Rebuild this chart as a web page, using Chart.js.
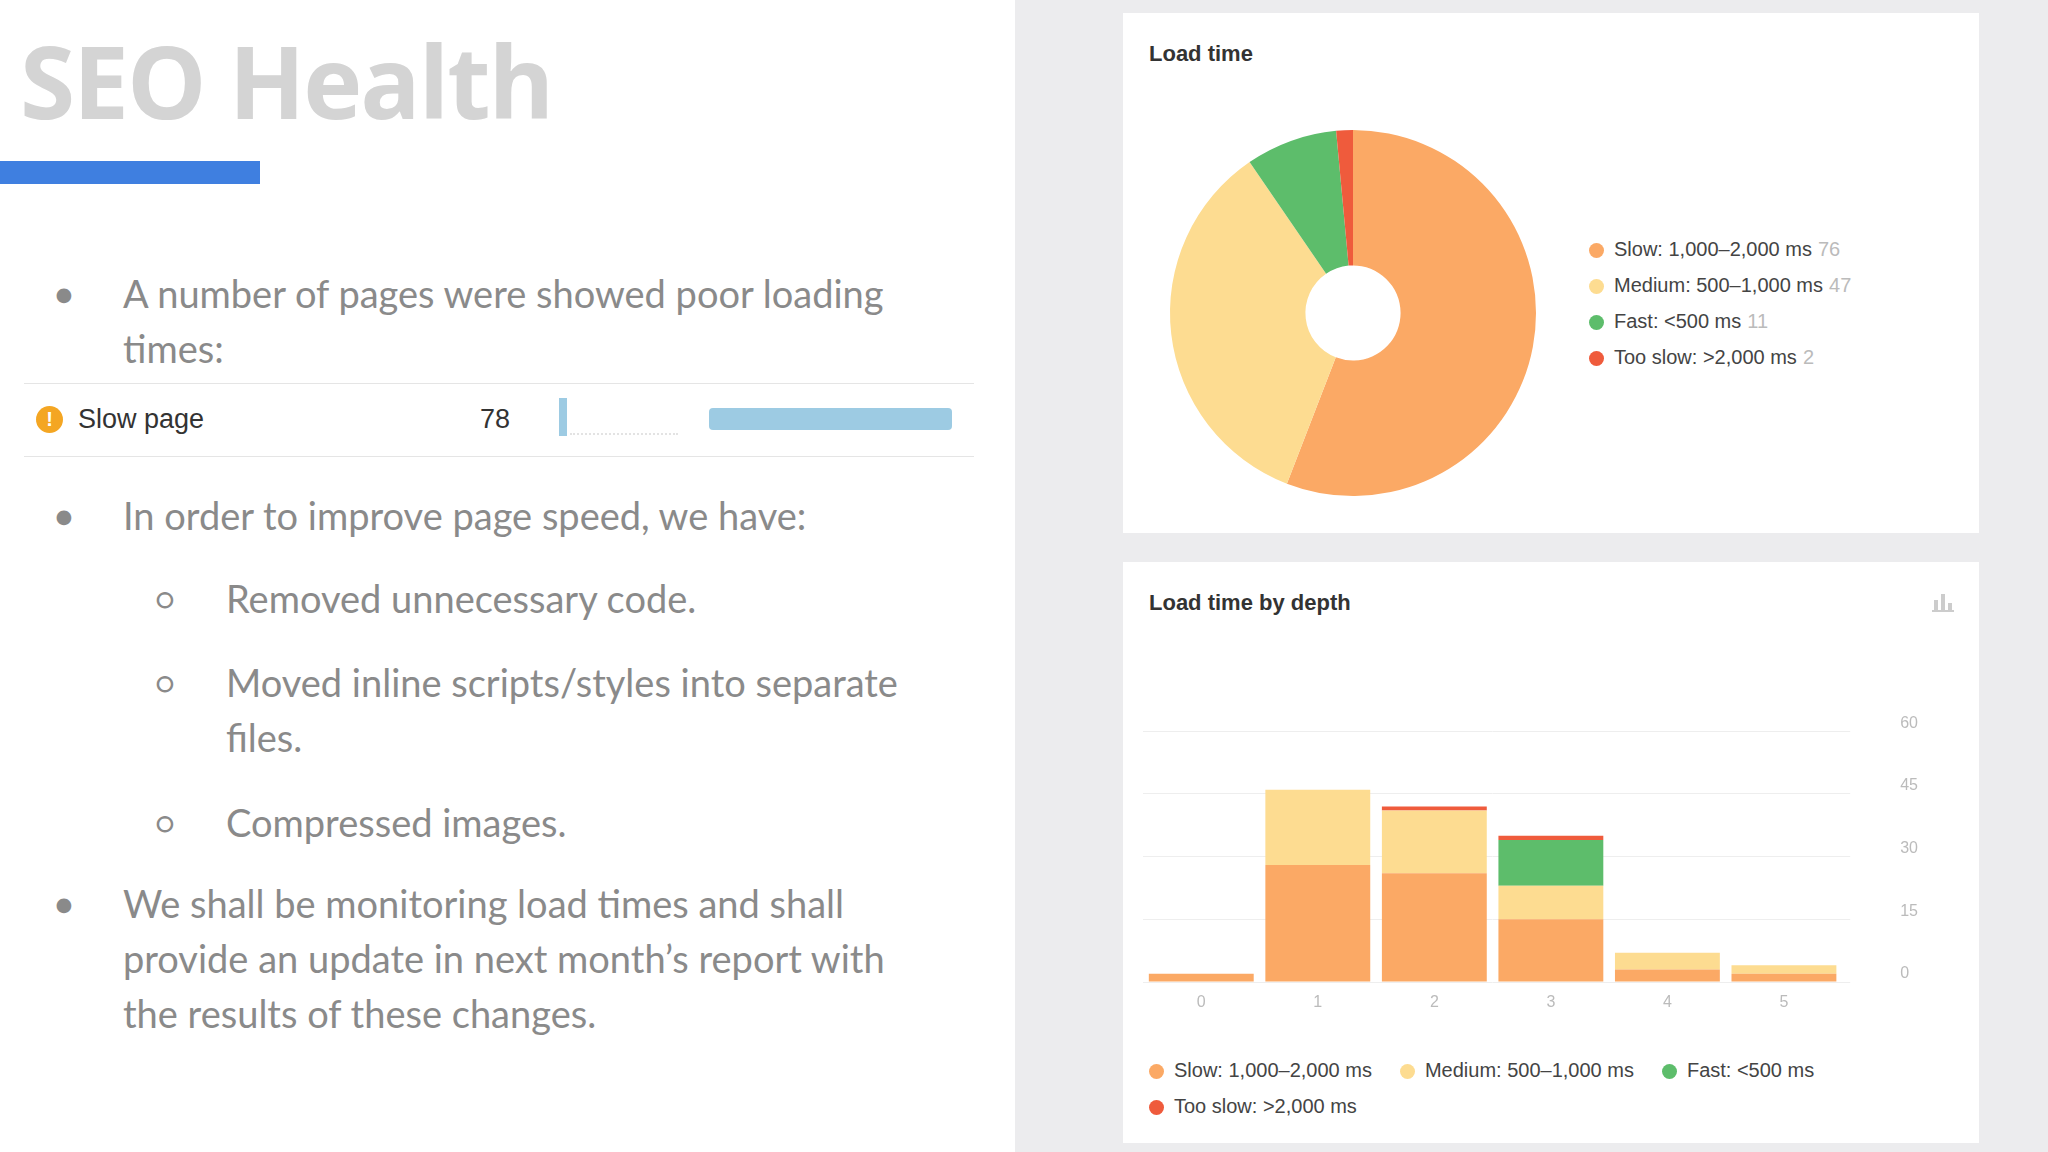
<!DOCTYPE html>
<html><head><meta charset="utf-8">
<script src="https://cdn.jsdelivr.net/npm/chart.js@4"></script>
<style>
body{margin:0;width:2048px;height:1152px;position:relative;background:#ececee;font-family:Lato,"Open Sans",sans-serif;overflow:hidden}
#left{position:absolute;left:0;top:0;width:1015px;height:1152px;background:#fff}
h1{position:absolute;left:20px;top:12px;margin:0;font:bold 100px "Open Sans",Lato,sans-serif;color:#d4d4d4;letter-spacing:-2px}
.blue{position:absolute;left:0;top:161px;width:260px;height:23px;background:#3f7fe0}
.t{position:absolute;color:#8a8a8a;font-size:38px;line-height:55px}
.dot{position:absolute;color:#8a8a8a;font-size:30px}
.card{position:absolute;background:#fff}
.ct{position:absolute;font:bold 22px "Liberation Sans",Arial,sans-serif;color:#333}
.leg{position:absolute;font:20px "Liberation Sans",Arial,sans-serif;color:#444}
.leg span.c{display:inline-block;width:15px;height:15px;border-radius:50%;vertical-align:-2px;margin-right:10px}
.leg span.n{color:#bbb;margin-left:6px}
</style></head><body>
<div id="left">
<h1>SEO Health</h1><div class="blue"></div>
<div class="dot" style="left:55px;top:275px">●</div>
<div class="t" style="left:123px;top:266px;width:800px">A number of pages were showed poor loading times:</div>
<div style="position:absolute;left:24px;top:383px;width:950px;border-top:1px solid #e5e5e5;border-bottom:1px solid #e5e5e5;height:72px"></div>
<div style="position:absolute;left:36px;top:406px;width:27px;height:27px;border-radius:50%;background:#f4a623;color:#fff;font:bold 20px Arial;text-align:center;line-height:27px">!</div>
<div style="position:absolute;left:78px;top:404px;font:27px 'Liberation Sans',Arial;color:#333">Slow page</div>
<div style="position:absolute;left:480px;top:404px;font:27px 'Liberation Sans',Arial;color:#333">78</div>
<div style="position:absolute;left:559px;top:398px;width:8px;height:38px;background:#9dcbe3"></div>
<div style="position:absolute;left:570px;top:433px;width:108px;border-top:2px dotted #e3e3e3"></div>
<div style="position:absolute;left:709px;top:408px;width:243px;height:22px;border-radius:4px;background:#9dcbe3"></div>
<div class="dot" style="left:55px;top:497px">●</div>
<div class="t" style="left:123px;top:488px">In order to improve page speed, we have:</div>
<div class="dot" style="left:155px;top:580px">○</div>
<div class="t" style="left:226px;top:571px">Removed unnecessary code.</div>
<div class="dot" style="left:155px;top:664px">○</div>
<div class="t" style="left:226px;top:655px;width:700px">Moved inline scripts/styles into separate files.</div>
<div class="dot" style="left:155px;top:804px">○</div>
<div class="t" style="left:226px;top:795px">Compressed images.</div>
<div class="dot" style="left:55px;top:885px">●</div>
<div class="t" style="left:123px;top:876px;width:800px">We shall be monitoring load times and shall provide an update in next month’s report with the results of these changes.</div>
</div>
<div class="card" style="left:1123px;top:13px;width:856px;height:520px">
<div class="ct" style="left:26px;top:28px">Load time</div>
<div style="position:absolute;left:30px;top:100px;width:400px;height:400px"><canvas id="pie"></canvas></div>
<div class="leg" id="pieLeg" style="left:466px;top:218px;line-height:36px"></div>
</div>
<div class="card" style="left:1123px;top:562px;width:856px;height:581px">
<div class="ct" style="left:26px;top:28px">Load time by depth</div>
<div style="position:absolute;right:25px;top:30px;width:22px;height:18px;border-bottom:2px solid #ccc">
<div style="position:absolute;left:2px;bottom:0;width:4px;height:10px;background:#ccc"></div><div style="position:absolute;left:9px;bottom:0;width:4px;height:16px;background:#ccc"></div><div style="position:absolute;left:16px;bottom:0;width:4px;height:7px;background:#ccc"></div></div>
<div style="position:absolute;left:20px;top:100px;width:835px;height:370px"><canvas id="bar"></canvas></div>
<div class="leg" id="barLeg" style="left:26px;top:490px;width:800px;line-height:36px"></div>
</div>
<script>
const seriesNames=["Slow: 1,000–2,000 ms","Medium: 500–1,000 ms","Fast: <500 ms","Too slow: >2,000 ms"];
const seriesTotals=[76,47,11,2];
const colors=["#fba965","#fddc91","#5dbd6b","#ef5b3c"];
const depths=["0","1","2","3","4","5"];
const slowVals=[2,28,26,15,3,2];
const mediumVals=[0,18,15,8,4,2];
const fastVals=[0,0,0,11,0,0];
const tooSlowVals=[0,0,1,1,0,0];
const yTicks=[0,15,30,45,60];
document.getElementById('pieLeg').innerHTML=seriesNames.map((n,i)=>`<div><span class="c" style="background:${colors[i]}"></span>${n}<span class="n">${seriesTotals[i]}</span></div>`).join('');
document.getElementById('barLeg').innerHTML=seriesNames.map((n,i)=>`<span style="margin-right:28px;white-space:nowrap;${i==3?'display:block':''}"><span class="c" style="background:${colors[i]}"></span>${n}</span>`).join('');
new Chart(document.getElementById('pie'),{type:'doughnut',data:{labels:seriesNames,datasets:[{data:seriesTotals,backgroundColor:colors,borderWidth:0}]},
options:{responsive:true,maintainAspectRatio:false,animation:false,cutout:'26%',plugins:{legend:{display:false},tooltip:{enabled:false}},layout:{padding:17}}});
const vals=[slowVals,mediumVals,fastVals,tooSlowVals];
new Chart(document.getElementById('bar'),{type:'bar',data:{labels:depths,datasets:vals.map((v,i)=>({label:seriesNames[i],data:v,backgroundColor:colors[i],barPercentage:0.9,categoryPercentage:1}))},
options:{responsive:true,maintainAspectRatio:false,animation:false,plugins:{legend:{display:false},tooltip:{enabled:false}},layout:{padding:{right:10}},
scales:{x:{stacked:true,grid:{display:false},border:{display:false},ticks:{color:'#bbb',font:{size:16}}},
y:{stacked:true,position:'right',min:0,max:60,afterBuildTicks:a=>{a.ticks=yTicks.map(v=>({value:v}))},grid:{color:'#eee'},border:{display:false},ticks:{color:'#bbb',font:{size:16},padding:50,align:'end'}}}}});
</script>
</body></html>
